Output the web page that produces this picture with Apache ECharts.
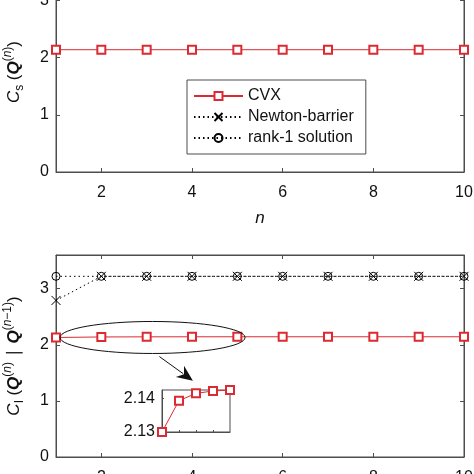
<!DOCTYPE html>
<html>
<head>
<meta charset="utf-8">
<script src="https://cdn.jsdelivr.net/npm/echarts@6/dist/echarts.min.js"></script>
<style>
  html, body { margin: 0; padding: 0; background: #fff; overflow: hidden; }
  body { width: 474px; height: 474px; position: relative; }
  /* the upper panel's top is cropped in the figure, so the canvas starts above the window */
  #chart { position: absolute; left: 0; top: -28px; width: 474px; height: 502px; }
</style>
</head>
<body>
<div id="chart"></div>
<script>
// iteration index
var n = [1, 2, 3, 4, 5, 6, 7, 8, 9, 10]
// upper panel: Cs
var cvxS = [2.14, 2.14, 2.14, 2.14, 2.14, 2.14, 2.14, 2.14, 2.14, 2.14]
// lower panel: CI
var cvxI = [2.13, 2.1394, 2.1416, 2.1423, 2.1426, 2.1426, 2.1426, 2.1426, 2.1426, 2.1426]
var newtonI = [2.79, 3.22, 3.22, 3.22, 3.22, 3.22, 3.22, 3.22, 3.22, 3.22]
var rank1I = [3.22, 3.22, 3.22, 3.22, 3.22, 3.22, 3.22, 3.22, 3.22, 3.22]
// tick values
var xTicks = [2, 4, 6, 8, 10]
var yTicks = [0, 1, 2, 3]
var insetYTicks = [2.13, 2.14]
var insetXTicks = [2, 3, 4]

var FONT = 'Liberation Sans, Arial, sans-serif'
var RED = '#dc2a32'
var AXIS = '#4d4d4d'

function pairs (xs, ys) {
  return ys.map(function (y, i) { return [xs[i], y] })
}

// shared axis bits
function xAx (grid, pos, showLabel, name) {
  return {
    type: 'value', gridIndex: grid, position: pos, min: 1, max: 10,
    name: name || '', nameLocation: 'middle', nameGap: 38,
    nameTextStyle: { fontFamily: FONT, fontSize: 17, fontStyle: 'italic', color: '#111' },
    axisLine: { show: true, onZero: false, lineStyle: { color: AXIS } },
    axisTick: { show: true, inside: true, length: 4, customValues: xTicks, lineStyle: { color: AXIS } },
    axisLabel: { show: showLabel, customValues: xTicks, margin: 13, fontFamily: FONT, fontSize: 16, color: '#111' },
    splitLine: { show: false }
  }
}
function yAx (grid, pos, max, showLabel, name) {
  return {
    type: 'value', gridIndex: grid, position: pos, min: 0, max: max,
    name: name || '', nameLocation: 'middle', nameGap: 30, nameRotate: 90,
    nameTextStyle: {
      fontFamily: FONT, fontSize: 16, color: '#111',
      rich: {
        i: { fontFamily: FONT, fontSize: 17, fontStyle: 'italic', color: '#111', verticalAlign: 'middle', lineHeight: 24 },
        r: { fontFamily: FONT, fontSize: 17, color: '#111', verticalAlign: 'middle', lineHeight: 24 },
        b: { fontFamily: FONT, fontSize: 17, fontStyle: 'italic', fontWeight: 'bold', color: '#111', verticalAlign: 'middle', lineHeight: 24 },
        sub: { fontFamily: FONT, fontSize: 12, color: '#111', verticalAlign: 'bottom', lineHeight: 12 },
        sup: { fontFamily: FONT, fontSize: 12, color: '#111', verticalAlign: 'top', lineHeight: 12 },
        supi: { fontFamily: FONT, fontSize: 12, fontStyle: 'italic', color: '#111', verticalAlign: 'top', lineHeight: 12 }
      }
    },
    axisLine: { show: true, onZero: false, lineStyle: { color: AXIS } },
    axisTick: { show: true, inside: true, length: 4, customValues: yTicks, lineStyle: { color: AXIS } },
    axisLabel: { show: showLabel, customValues: yTicks, margin: 7, fontFamily: FONT, fontSize: 16, color: '#111' },
    splitLine: { show: false }
  }
}

var chart = echarts.init(document.getElementById('chart'))

var cvxStyle = {
  type: 'line', symbol: 'emptyRect', symbolSize: 8, showSymbol: true,
  lineStyle: { color: RED, width: 1 },
  itemStyle: { color: RED, borderColor: RED, borderWidth: 1 },
  emphasis: { disabled: true }, animation: false
}
var xSym = 'path://M0,0L10,10M10,0L0,10'
function newtonS (xi, yi, data) {
  return {
    name: 'Newton-barrier', type: 'line', xAxisIndex: xi, yAxisIndex: yi, data: data,
    symbol: xSym, symbolSize: 9, showSymbol: true,
    lineStyle: { color: '#000', width: 1, type: [1.5, 3] },
    itemStyle: { color: 'transparent', borderColor: '#000', borderWidth: 1 },
    emphasis: { disabled: true }, animation: false, z: 3
  }
}
function rankS (xi, yi, data) {
  return {
    name: 'rank-1 solution', type: 'line', xAxisIndex: xi, yAxisIndex: yi, data: data,
    symbol: 'circle', symbolSize: 8, showSymbol: true,
    lineStyle: { color: '#000', width: 1, type: [1.5, 3] },
    itemStyle: { color: 'transparent', borderColor: '#000', borderWidth: 1 },
    emphasis: { disabled: true }, animation: false, z: 3
  }
}

var nameS = '{i|C}{sub|s} {r|(}{b|Q}{sup|(}{supi|n}{sup|)}{r|)}'
var nameI = '{i|C}{sub|I} {r|(}{b|Q}{sup|(}{supi|n}{sup|)}{r| \u2223 }{b|Q}{sup|(}{supi|n}{sup|\u22121)}{r|)}'

chart.setOption({
  backgroundColor: '#fff',
  animation: false,
  grid: [
    { left: 56, right: 10, top: 0, height: 200, outerBoundsMode: 'none', containLabel: false, show: true, borderColor: AXIS, borderWidth: 1 },
    { left: 56, right: 10, top: 283, height: 202, outerBoundsMode: 'none', containLabel: false, show: true, borderColor: AXIS, borderWidth: 1 },
    { left: 162, top: 418, width: 68, height: 42, outerBoundsMode: 'none', containLabel: false, show: true, borderColor: AXIS, borderWidth: 1, backgroundColor: 'transparent' }
  ],
  legend: {
    left: 187, top: 108, orient: 'vertical',
    padding: [8, 12, 8, 6],
    itemWidth: 49, itemHeight: 10, itemGap: 5,
    borderColor: AXIS, borderWidth: 1, backgroundColor: '#fff',
    textStyle: { fontFamily: FONT, fontSize: 16, color: '#111' },
    data: ['CVX', 'Newton-barrier', 'rank-1 solution'],
    selectedMode: false
  },
  xAxis: [
    xAx(0, 'bottom', true, 'n'),
    xAx(0, 'top', false),
    xAx(1, 'bottom', true),
    xAx(1, 'top', false),
    {
      type: 'value', gridIndex: 2, min: 1, max: 5,
      axisLine: { show: true, onZero: false, lineStyle: { color: AXIS } },
      axisTick: { show: true, inside: true, length: 2, customValues: insetXTicks, lineStyle: { color: AXIS } },
      axisLabel: { show: false },
      splitLine: { show: false }
    }
  ],
  yAxis: [
    yAx(0, 'left', 3.5, true, nameS),
    yAx(0, 'right', 3.5, false),
    yAx(1, 'left', 3.6, true, nameI),
    yAx(1, 'right', 3.6, false),
    {
      type: 'value', gridIndex: 2, min: 2.13, max: 2.1426,
      axisLine: { show: true, onZero: false, lineStyle: { color: AXIS } },
      axisTick: { show: true, inside: true, length: 2, customValues: insetYTicks, lineStyle: { color: AXIS } },
      axisLabel: { show: true, customValues: insetYTicks, margin: 7, fontFamily: FONT, fontSize: 16, color: '#111' },
      splitLine: { show: false }
    }
  ],
  series: [
    Object.assign({ name: 'CVX', xAxisIndex: 0, yAxisIndex: 0, data: pairs(n, cvxS), z: 4 }, cvxStyle),
    newtonS(0, 0, []),
    rankS(0, 0, []),
    Object.assign({ name: 'CVX', xAxisIndex: 2, yAxisIndex: 2, data: pairs(n, cvxI), z: 4 }, cvxStyle),
    newtonS(2, 2, pairs(n, newtonI)),
    rankS(2, 2, pairs(n, rank1I)),
    Object.assign({ name: 'CVX', xAxisIndex: 4, yAxisIndex: 4, data: pairs(n.slice(0, 5), cvxI.slice(0, 5)), z: 4 }, cvxStyle)
  ]
})

// zoom annotation: ellipse round the first five points and an arrow to the inset
var toPx = function (p) { return chart.convertToPixel({ xAxisIndex: 2, yAxisIndex: 2 }, p) }
var eL = toPx([1.09, cvxI[0]])
var eR = toPx([5.17, cvxI[0]])
var a0 = toPx([3.28, 1.79])
var a1 = toPx([4.02, 1.36])
var ang = Math.atan2(a1[1] - a0[1], a1[0] - a0[0])
var hl = 16, hw = 7
var bx = a1[0] - hl * Math.cos(ang), by = a1[1] - hl * Math.sin(ang)
chart.setOption({
  graphic: [
    {
      type: 'ellipse', z: 10,
      shape: { cx: (eL[0] + eR[0]) / 2, cy: eL[1], rx: (eR[0] - eL[0]) / 2, ry: 16 },
      style: { fill: 'none', stroke: '#111', lineWidth: 1 }
    },
    {
      type: 'line', z: 10,
      shape: { x1: a0[0], y1: a0[1], x2: bx + 4 * Math.cos(ang), y2: by + 4 * Math.sin(ang) },
      style: { stroke: '#111', lineWidth: 1 }
    },
    {
      type: 'polygon', z: 10,
      shape: {
        points: [
          [a1[0], a1[1]],
          [bx + hw * Math.sin(ang), by - hw * Math.cos(ang)],
          [a1[0] - (hl - 5) * Math.cos(ang), a1[1] - (hl - 5) * Math.sin(ang)],
          [bx - hw * Math.sin(ang), by + hw * Math.cos(ang)]
        ]
      },
      style: { fill: '#111' }
    }
  ]
})
</script>
</body>
</html>
